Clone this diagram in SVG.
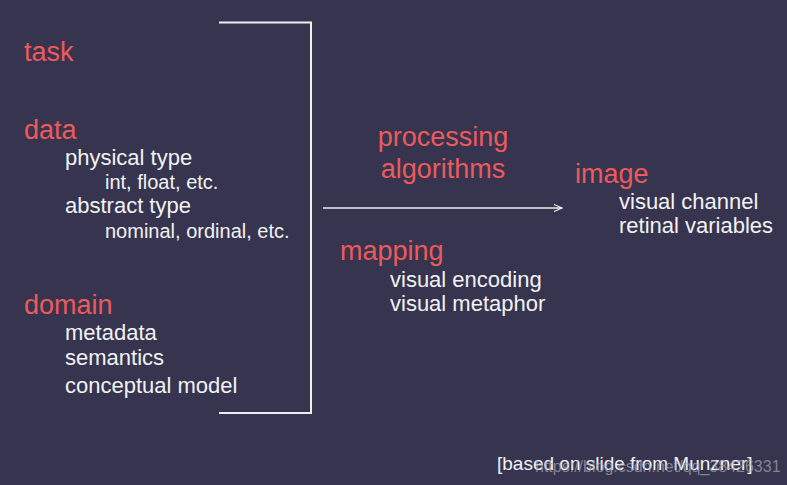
<svg xmlns="http://www.w3.org/2000/svg" width="787" height="485" viewBox="0 0 787 485">
<style>
text{font-family:"Liberation Sans",Arial,sans-serif}
.h{fill:#ec5a5c;font-size:27px}
.s{fill:#f2f2f4;font-size:22px}
.t{fill:#f2f2f4;font-size:20px}
.c{fill:#f2f2f4;font-size:19px}
.ln{stroke:#eeeeee;stroke-width:2;fill:none}
</style>
<defs>
<marker id="arr" markerWidth="10" markerHeight="10" refX="9" refY="5" orient="auto" markerUnits="userSpaceOnUse">
<path d="M1,1.5 L9,5 L1,8.5" fill="none" stroke="#eeeeee" stroke-width="1.3"/>
</marker>
</defs>
<rect width="787" height="485" fill="#36344e"/>
<g id="connectors">
<path class="ln" d="M219,22.5 H311 V413 H219"/>
<line x1="323" y1="208" x2="562" y2="208" stroke="#eeeeee" stroke-width="1.5" marker-end="url(#arr)"/>
</g>
<g id="task"><text class="h" x="24" y="61">task</text></g>
<g id="data">
<text class="h" x="24" y="139">data</text>
<text class="s" x="65" y="165">physical type</text>
<text class="t" x="105" y="189">int, float, etc.</text>
<text class="s" x="65" y="213">abstract type</text>
<text class="t" x="105" y="238">nominal, ordinal, etc.</text>
</g>
<g id="domain">
<text class="h" x="24" y="314">domain</text>
<text class="s" x="65" y="340">metadata</text>
<text class="s" x="65" y="365">semantics</text>
<text class="s" x="65" y="393">conceptual model</text>
</g>
<g id="processing">
<text class="h" x="443" y="146" text-anchor="middle">processing</text>
<text class="h" x="443" y="178" text-anchor="middle">algorithms</text>
</g>
<g id="mapping">
<text class="h" x="340" y="260">mapping</text>
<text class="s" x="390" y="287">visual encoding</text>
<text class="s" x="390" y="311">visual metaphor</text>
</g>
<g id="image">
<text class="h" x="575" y="183">image</text>
<text class="s" x="619" y="209">visual channel</text>
<text class="s" x="619" y="233">retinal variables</text>
</g>
<g id="credit">
<text class="c" x="497" y="470">[based on slide from Munzner]</text>
<text x="535" y="472" font-size="16" fill="#a8a8b4" fill-opacity="0.7">https://blog.csdn.net/qq_38426331</text>
</g>
</svg>
